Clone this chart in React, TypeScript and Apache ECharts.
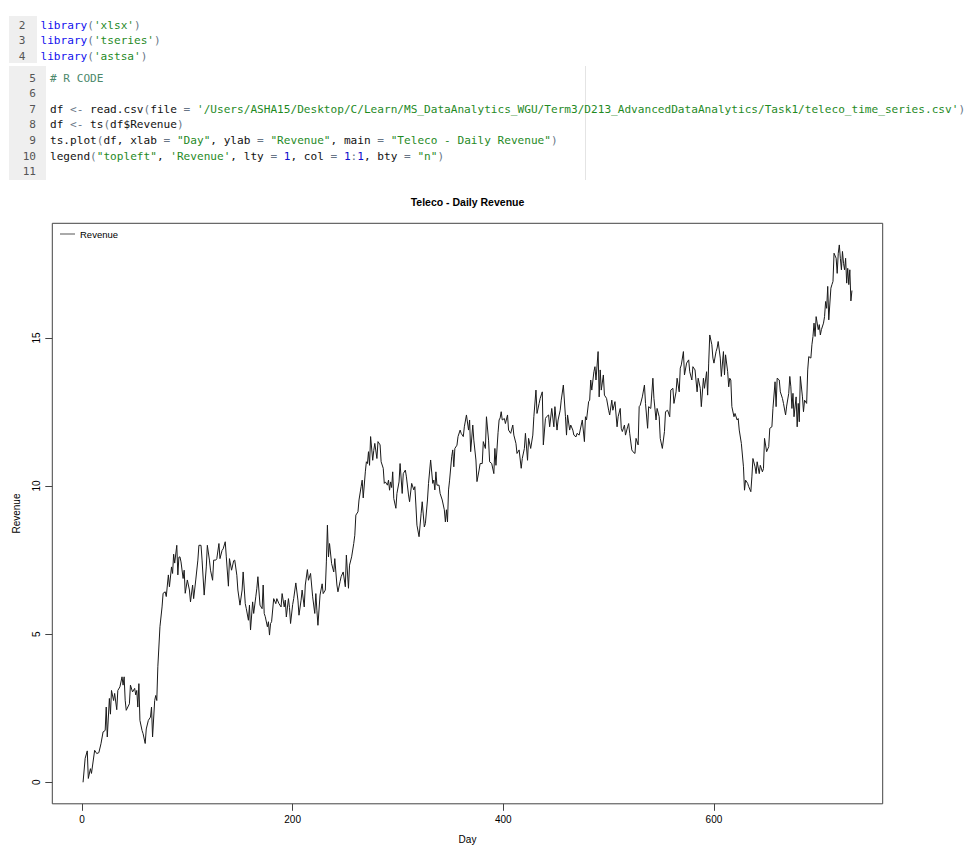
import React, { useEffect, useRef } from 'react';
import * as echarts from 'echarts';

// ---------- data ----------
const days = [
  1, 3, 5, 6, 8, 9, 12, 14, 16, 18, 20, 22, 23, 24, 26, 27, 28, 30, 31, 33, 34, 36, 38, 39, 40, 41, 42, 45, 46, 48,
  50, 51, 52, 53, 54, 55, 57, 58, 60, 61, 63, 65, 66, 67, 69, 70, 71, 72, 74, 76, 77, 79, 80, 82, 83, 85, 86, 87, 88, 90,
  91, 92, 93, 94, 96, 97, 98, 100, 102, 103, 105, 106, 108, 110, 111, 113, 114, 116, 118, 119, 121, 122, 124, 125, 127, 128, 130, 131, 133, 134,
  136, 137, 139, 140, 142, 144, 145, 147, 148, 150, 152, 153, 155, 156, 158, 159, 160, 162, 163, 165, 166, 167, 169, 171, 172, 173, 174, 176, 177, 178,
  179, 180, 182, 184, 185, 187, 189, 190, 192, 193, 194, 196, 197, 198, 200, 201, 203, 205, 206, 208, 209, 211, 212, 214, 215, 217, 219, 221, 222, 223,
  224, 226, 228, 229, 231, 232, 233, 234, 235, 237, 239, 240, 242, 243, 245, 246, 248, 250, 251, 253, 254, 256, 258, 259, 260, 262, 263, 265, 266, 267,
  269, 270, 271, 272, 273, 274, 276, 277, 278, 280, 281, 283, 284, 286, 287, 288, 290, 291, 292, 293, 294, 295, 296, 298, 299, 301, 302, 304, 305, 307,
  308, 310, 311, 313, 315, 316, 317, 318, 320, 322, 323, 325, 326, 328, 329, 331, 333, 334, 335, 336, 337, 339, 340, 342, 344, 345, 346, 347, 348, 349,
  351, 352, 353, 354, 356, 357, 359, 360, 362, 363, 365, 367, 368, 369, 371, 372, 374, 375, 377, 378, 380, 381, 383, 384, 386, 387, 389, 391, 392, 393,
  395, 396, 397, 398, 399, 401, 402, 404, 405, 407, 409, 410, 412, 413, 415, 417, 418, 420, 421, 423, 424, 426, 428, 429, 431, 432, 434, 435, 437, 438,
  440, 441, 443, 444, 446, 448, 449, 451, 452, 454, 455, 457, 459, 460, 461, 463, 464, 466, 467, 469, 470, 472, 473, 475, 477, 478, 479, 481, 482, 483,
  484, 486, 487, 488, 490, 491, 492, 493, 495, 496, 498, 500, 501, 503, 504, 506, 508, 509, 511, 512, 513, 515, 516, 518, 519, 520, 522, 523, 525, 526,
  528, 529, 530, 532, 534, 535, 537, 538, 540, 542, 543, 545, 546, 548, 549, 551, 553, 554, 556, 558, 559, 561, 562, 564, 565, 567, 568, 569, 571, 572,
  574, 576, 577, 579, 580, 582, 584, 585, 587, 588, 590, 591, 593, 594, 595, 596, 598, 599, 600, 602, 603, 604, 606, 607, 609, 610, 611, 613, 614, 615,
  616, 617, 619, 620, 622, 623, 624, 626, 628, 629, 630, 632, 633, 635, 636, 637, 639, 640, 641, 643, 644, 646, 647, 648, 650, 652, 653, 655, 656, 658,
  659, 660, 662, 663, 665, 666, 668, 669, 671, 672, 673, 674, 675, 676, 678, 679, 680, 681, 682, 684, 685, 686, 688, 689, 690, 692, 693, 694, 695, 696,
  697, 699, 700, 701, 702, 704, 705, 706, 707, 708, 709, 711, 712, 713, 714, 716, 717, 718, 719, 720, 721, 722, 723, 724, 725, 726, 727, 728, 729, 730,
  731,
];

const revenue = [
  0, 0.81, 1.06, 0.13, 0.46, 0.3, 1.08, 0.97, 1.0, 1.3, 1.7, 1.75, 2.54, 1.53, 2.83, 2.3, 3.1, 2.76, 3.0, 2.45, 3.1, 3.22, 3.56, 3.28, 3.56, 2.77, 2.43, 2.65, 3.28, 3.05,
  3.17, 2.95, 3.1, 2.54, 3.33, 2.09, 1.75, 1.64, 1.31, 1.8, 2.09, 2.2, 2.54, 1.53, 2.76, 2.93, 2.76, 3.9, 5.25, 5.92, 6.38, 6.43, 6.27, 7.0, 6.6, 7.27, 7.05, 7.7, 7.4, 8.0,
  7.0, 7.6, 7.61, 7.44, 6.88, 7.16, 6.38, 6.83, 6.49, 6.09, 6.66, 6.2, 6.83, 7.5, 8.0, 8.0, 7.5, 6.32, 7.27, 8.0, 7.5, 7.16, 6.82, 7.5, 7.5, 7.55, 8.06, 7.55, 7.83, 7.88,
  8.12, 7.61, 6.62, 7.55, 7.16, 7.48, 7.5, 6.99, 6.49, 5.98, 6.49, 7.1, 6.03, 5.86, 5.47, 5.98, 5.14, 6.09, 5.7, 6.26, 6.55, 6.94, 5.98, 5.86, 6.66, 5.7, 5.59, 5.25, 5.42, 4.97,
  5.36, 5.42, 6.2, 6.03, 6.2, 6.03, 5.92, 6.37, 5.92, 6.15, 5.58, 6.2, 5.9, 5.36, 6.0, 6.2, 6.73, 6.15, 5.64, 6.15, 6.49, 5.92, 6.66, 7.18, 6.82, 7.05, 6.26, 5.7, 6.37, 5.81,
  5.3, 6.32, 6.7, 6.37, 6.49, 7.44, 8.68, 7.61, 8.06, 7.38, 7.1, 7.55, 6.66, 6.43, 6.77, 6.94, 7.1, 6.6, 7.67, 6.55, 7.33, 7.61, 8.06, 8.34, 9.02, 9.13, 9.53, 9.98, 10.2, 9.6,
  10.48, 10.82, 10.76, 11.16, 10.7, 11.67, 10.87, 11.2, 11.44, 10.93, 11.5, 11.39, 10.82, 10.6, 10.09, 10.14, 10.03, 10.2, 9.86, 10.14, 9.95, 10.48, 9.58, 9.25, 9.75, 10.14, 10.76, 9.75, 10.42, 10.54,
  10.31, 9.7, 9.47, 10.09, 9.87, 9.98, 9.36, 8.68, 8.29, 9.08, 9.47, 8.62, 8.73, 9.53, 10.09, 10.88, 10.09, 10.2, 9.87, 10.48, 10.03, 10.03, 9.75, 9.53, 9.2, 8.79, 9.2, 8.79, 9.87, 10.2,
  10.99, 11.22, 10.65, 11.27, 11.38, 11.67, 11.89, 11.78, 11.67, 12.0, 12.4, 11.89, 12.23, 11.16, 12.06, 11.55, 10.88, 10.15, 10.54, 10.76, 10.76, 11.5, 11.27, 12.34, 11.55, 10.82, 10.76, 10.42, 11.27, 10.7,
  11.8, 12.23, 12.3, 12.51, 12.23, 12.28, 12.11, 12.4, 11.89, 11.78, 12.06, 11.72, 11.44, 11.1, 11.22, 10.6, 10.93, 11.27, 11.78, 10.87, 11.61, 11.27, 11.72, 12.34, 13.24, 12.45, 12.79, 12.96, 13.18, 11.39,
  12.28, 12.34, 12.4, 12.0, 12.62, 12.0, 12.68, 11.89, 12.23, 12.56, 12.9, 13.41, 12.34, 11.72, 12.4, 11.89, 12.06, 11.89, 11.72, 11.66, 11.78, 11.72, 11.89, 12.23, 11.5, 12.34, 12.23, 12.85, 12.9, 13.58,
  13.24, 13.86, 14.03, 13.58, 14.54, 13.01, 13.92, 13.24, 13.75, 13.07, 12.96, 12.56, 12.4, 12.9, 12.56, 12.85, 12.0, 12.34, 12.62, 11.95, 11.84, 12.06, 11.72, 12.0, 12.11, 11.78, 11.22, 11.16, 11.1, 11.61,
  11.39, 12.68, 12.73, 13.01, 13.41, 12.79, 11.95, 12.68, 12.62, 13.64, 12.96, 12.23, 12.62, 12.34, 11.61, 11.27, 11.84, 12.51, 12.56, 12.34, 13.24, 13.3, 12.79, 13.18, 13.64, 13.18, 13.98, 14.09, 14.54, 13.75,
  14.15, 14.26, 13.86, 13.58, 14.03, 13.92, 13.18, 13.64, 13.3, 12.68, 13.64, 13.3, 13.86, 13.07, 14.15, 15.1, 14.77, 14.32, 14.15, 14.54, 14.66, 14.88, 14.32, 13.7, 14.54, 13.75, 14.43, 13.86, 13.35, 13.64,
  13.58, 12.68, 12.34, 12.45, 12.23, 12.28, 11.89, 11.44, 10.65, 9.86, 10.2, 10.09, 9.98, 9.81, 10.31, 10.93, 10.65, 10.42, 10.82, 10.42, 10.7, 10.48, 10.59, 11.61, 11.16, 11.33, 11.95, 12.0, 12.62, 13.52,
  12.68, 13.64, 13.58, 13.18, 12.96, 12.79, 12.4, 12.7, 13.13, 13.7, 13.35, 12.62, 13.13, 12.34, 13.01, 12.0, 12.79, 12.17, 13.7, 13.01, 12.51, 12.9, 12.79, 13.92, 14.37, 14.32, 14.77, 15.05, 15.5, 15.05,
  15.72, 15.28, 15.45, 15.1, 15.28, 15.5, 15.72, 16.23, 16.0, 16.74, 15.61, 16.68, 16.8, 16.91, 17.86, 17.69, 17.18, 17.86, 18.14, 17.69, 17.3, 17.92, 17.52, 17.3, 17.69, 16.85, 17.35, 16.8, 17.3, 16.25,
  16.6,
];

const xTicks = [0, 200, 400, 600];
const yTicks = [0, 5, 10, 15];
const chartTitle = 'Teleco - Daily Revenue';
const seriesName = 'Revenue';
const xLabel = 'Day';
const yLabel = 'Revenue';

// ---------- R script shown above the plot ----------
type Seg = [string, string];
const codeBlockA: { n: number; segs: Seg[] }[] = [
  { n: 2, segs: [['k', 'library'], ['p', '('], ['s', "'xlsx'"], ['p', ')']] },
  { n: 3, segs: [['k', 'library'], ['p', '('], ['s', "'tseries'"], ['p', ')']] },
  { n: 4, segs: [['k', 'library'], ['p', '('], ['s', "'astsa'"], ['p', ')']] },
];
const codeBlockB: { n: number; segs: Seg[] }[] = [
  { n: 5, segs: [['c', '# R CODE']] },
  { n: 6, segs: [] },
  {
    n: 7,
    segs: [
      ['t', 'df '], ['o', '<-'], ['t', ' read.csv'], ['p', '('], ['t', 'file '], ['o', '='], ['t', ' '],
      ['s', "'/Users/ASHA15/Desktop/C/Learn/MS_DataAnalytics_WGU/Term3/D213_AdvancedDataAnalytics/Task1/teleco_time_series.csv'"],
      ['p', ')'],
    ],
  },
  { n: 8, segs: [['t', 'df '], ['o', '<-'], ['t', ' ts'], ['p', '('], ['t', 'df$Revenue'], ['p', ')']] },
  {
    n: 9,
    segs: [
      ['t', 'ts.plot'], ['p', '('], ['t', 'df, xlab '], ['o', '='], ['t', ' '], ['s', '"Day"'], ['t', ', ylab '], ['o', '='], ['t', ' '],
      ['s', '"Revenue"'], ['t', ', main '], ['o', '='], ['t', ' '], ['s', '"Teleco - Daily Revenue"'], ['p', ')'],
    ],
  },
  {
    n: 10,
    segs: [
      ['t', 'legend'], ['p', '('], ['s', '"topleft"'], ['t', ', '], ['s', "'Revenue'"], ['t', ', lty '], ['o', '='], ['t', ' '], ['n', '1'],
      ['t', ', col '], ['o', '='], ['t', ' '], ['n', '1'], ['o', ':'], ['n', '1'], ['t', ', bty '], ['o', '='], ['t', ' '], ['s', '"n"'], ['p', ')'],
    ],
  },
  { n: 11, segs: [] },
];

const codeColors: Record<string, string> = {
  k: '#1111ee',
  s: '#1f8a1f',
  c: '#4c886b',
  p: '#687687',
  o: '#687687',
  n: '#1111cc',
  t: '#111111',
};

const MONO = '11.1px "DejaVu Sans Mono", "Liberation Mono", monospace';
const CW = 6.68;
const SANS = '"Liberation Sans", Arial, Helvetica, sans-serif';

function codeGraphics(): any[] {
  const els: any[] = [];
  els.push({ type: 'rect', shape: { x: 9, y: 16, width: 28, height: 47 }, style: { fill: '#efefef' }, silent: true });
  els.push({ type: 'rect', shape: { x: 9, y: 66, width: 37, height: 114 }, style: { fill: '#efefef' }, silent: true });
  els.push({ type: 'line', shape: { x1: 585.5, y1: 66, x2: 585.5, y2: 180 }, style: { stroke: '#e4e4e4', lineWidth: 1 }, silent: true });

  const drawBlock = (block: { n: number; segs: Seg[] }[], y0: number, dy: number, numRight: number, x0: number) => {
    block.forEach((line, i) => {
      const y = y0 + i * dy;
      els.push({
        type: 'text', x: numRight, y, silent: true,
        style: { text: String(line.n), font: MONO, fill: '#555555', align: 'right', textAlign: 'right', verticalAlign: 'middle', textVerticalAlign: 'middle' },
      });
      let col = 0;
      line.segs.forEach(([kind, txt]) => {
        const lead = txt.length - txt.replace(/^ +/, '').length;
        const body = txt.trim();
        if (body.length) {
          els.push({
            type: 'text', x: x0 + (col + lead) * CW, y, silent: true,
            style: { text: body, font: MONO, fill: codeColors[kind], align: 'left', textAlign: 'left', verticalAlign: 'middle', textVerticalAlign: 'middle' },
          });
        }
        col += txt.length;
      });
    });
  };
  drawBlock(codeBlockA, 25, 15.6, 25.5, 40.5);
  drawBlock(codeBlockB, 78.3, 15.55, 36, 50);
  return els;
}

export default function App() {
  const ref = useRef<HTMLDivElement>(null);
  useEffect(() => {
    if (!ref.current) return;
    const chart = echarts.init(ref.current, null, { renderer: 'svg' });
    const data = days.map((d, i) => [d, revenue[i]]);
    const axisFont = { fontFamily: SANS, fontSize: 10, color: '#000' };
    chart.setOption({
      animation: false,
      backgroundColor: '#ffffff',
      title: {
        text: chartTitle,
        left: 462.5,
        top: 191,
        textAlign: 'center',
        textVerticalAlign: 'top',
        textStyle: { fontFamily: SANS, fontSize: 10.5, fontWeight: 'bold', color: '#000' },
      },
      legend: {
        data: [seriesName],
        left: 55,
        top: 224,
        icon: 'rect',
        itemWidth: 15,
        itemHeight: 1,
        itemGap: 5,
        textStyle: { fontFamily: SANS, fontSize: 9.5, color: '#000' },
        selectedMode: false,
      },
      grid: {
        left: 52.3,
        top: 223.3,
        width: 830.4,
        height: 580.5,
        show: true,
        borderColor: '#444',
        borderWidth: 1,
        backgroundColor: 'transparent',
        containLabel: false,
        outerBoundsMode: 'none',
      },
      xAxis: {
        type: 'value',
        min: -28.2,
        max: 760.2,
        axisLine: { show: false, onZero: false },
        splitLine: { show: false },
        axisTick: { show: true, length: 7, customValues: xTicks, lineStyle: { color: '#444', width: 1 } },
        axisLabel: { customValues: xTicks, margin: 11, ...axisFont },
        name: xLabel,
        nameLocation: 'middle',
        nameGap: 31,
        nameTextStyle: { ...axisFont },
      },
      yAxis: {
        type: 'value',
        min: -0.726,
        max: 18.87,
        axisLine: { show: false, onZero: false },
        splitLine: { show: false },
        axisTick: { show: true, length: 7, customValues: yTicks, lineStyle: { color: '#444', width: 1 } },
        axisLabel: { customValues: yTicks, margin: 11, rotate: 90, ...axisFont },
        name: yLabel,
        nameLocation: 'middle',
        nameRotate: 90,
        nameGap: 31,
        nameTextStyle: { ...axisFont },
      },
      series: [
        {
          name: seriesName,
          type: 'line',
          data,
          showSymbol: false,
          symbol: 'none',
          lineStyle: { color: '#1a1a1a', width: 1 },
          itemStyle: { color: '#555' },
          emphasis: { disabled: true },
        },
      ],
      graphic: codeGraphics(),
    });
    return () => chart.dispose();
  }, []);
  return <div ref={ref} style={{ position: 'absolute', left: 0, top: 0, width: 976, height: 849 }} />;
}
